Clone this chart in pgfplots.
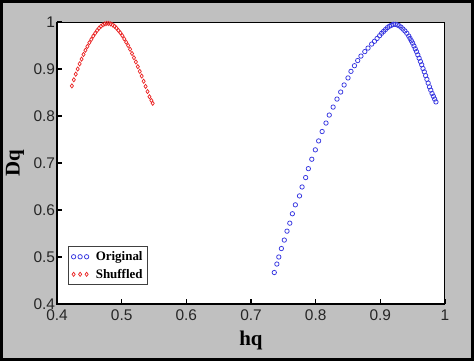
\documentclass[border=0pt]{standalone}
\usepackage{fontspec}
\setmainfont{Liberation Sans}
\newfontfamily\tnr{Liberation Serif}
\usepackage{pgfplots}
\pgfplotsset{compat=1.18}
\definecolor{bg}{RGB}{192,192,192}
\definecolor{mblue}{RGB}{55,55,225}
\definecolor{mred}{RGB}{235,35,35}
\begin{document}
\begin{tikzpicture}
\fill[black] (-57bp,-57bp) rectangle (417bp,304bp);
\fill[bg] (-54bp,-54bp) rectangle (414bp,301bp);
\begin{axis}[
  scale only axis, width=388bp, height=282bp,
  xmin=0.4, xmax=1, ymin=0.4, ymax=1,
  axis background/.style={fill=white},
  axis line style={line width=1bp, black},
  xtick={0.4,0.5,0.6,0.7,0.8,0.9,1},
  xticklabels={0.4,0.5,0.6,0.7,0.8,0.9,1},
  ytick={0.4,0.5,0.6,0.7,0.8,0.9,1},
  yticklabels={0.4,0.5,0.6,0.7,0.8,0.9,1},
  tick align=inside, tick pos=left,
  major tick length=5bp,
  every tick/.style={black, line width=1.5bp},
  tick label style={font=\fontsize{15.5}{15.5}\selectfont, text=black!85},
  xticklabel style={yshift=-2bp},
  yticklabel style={xshift=1.5bp},
  xlabel={hq}, ylabel={Dq},
  label style={font=\tnr\bfseries\fontsize{21}{21}\selectfont},
  xlabel style={at={(axis description cs:0.5,-0.1277)}, anchor=center},
  ylabel style={at={(axis description cs:-0.108,0.5)}, anchor=center},
  clip=false,
  legend cell align=left,
  legend style={at={(rel axis cs:0.0284,0.0674)}, anchor=south west,
    draw=black!75, line width=0.8bp, fill=white,
    font=\tnr\bfseries\fontsize{13}{13}\selectfont,
    row sep=3bp, column sep=5bp, inner xsep=3bp, inner ysep=3bp},
  legend image code/.code={\draw[mark repeat=1,mark phase=1] plot coordinates {(0bp,0bp)(6.5bp,0bp)(13bp,0bp)};},
]
\addplot[only marks, mark=o, mark size=2.2bp, color=mblue, mark options={line width=0.75bp}] coordinates {
(0.736,0.467)(0.740,0.485)(0.743,0.500)(0.747,0.518)(0.7515,0.536)(0.7557,0.555)
(0.760,0.572)(0.764,0.592)(0.7686,0.611)(0.775,0.630)(0.779,0.649)(0.7845,0.669)
(0.7887,0.688)(0.794,0.708)(0.7995,0.728)(0.8046,0.747)(0.810,0.767)(0.816,0.785)
(0.821,0.802)(0.827,0.819)(0.833,0.836)(0.8387,0.851)(0.844,0.866)(0.850,0.881)
(0.8546,0.895)(0.860,0.907)(0.865,0.918)(0.870,0.9275)(0.876,0.937)(0.881,0.9445)
(0.8866,0.953)(0.891,0.959)(0.895,0.965)(0.899,0.971)(0.902,0.976)(0.905,0.980)
(0.908,0.984)(0.911,0.988)(0.914,0.991)(0.917,0.993)(0.920,0.995)(0.923,0.995)
(0.926,0.994)(0.929,0.992)(0.932,0.989)(0.935,0.985)(0.938,0.981)(0.941,0.976)
(0.944,0.970)(0.946,0.965)(0.948,0.960)(0.950,0.955)(0.952,0.949)(0.954,0.943)
(0.956,0.937)(0.958,0.930)(0.960,0.923)(0.962,0.916)(0.964,0.909)(0.966,0.901)
(0.968,0.894)(0.970,0.886)(0.972,0.878)(0.974,0.870)(0.976,0.862)(0.978,0.855)
(0.980,0.848)(0.982,0.842)(0.984,0.836)(0.986,0.830)
};
\addlegendentry{Original}
\addplot[only marks, mark=diamond, mark size=2.1bp, color=mred, mark options={line width=0.7bp}] coordinates {
(0.423,0.864)(0.426,0.877)(0.429,0.889)(0.432,0.900)(0.435,0.911)(0.438,0.921)
(0.441,0.931)(0.444,0.940)(0.447,0.948)(0.450,0.956)(0.453,0.963)(0.456,0.970)
(0.459,0.976)(0.462,0.982)(0.465,0.987)(0.468,0.991)(0.471,0.994)(0.474,0.996)
(0.477,0.997)(0.480,0.997)(0.483,0.996)(0.486,0.994)(0.489,0.991)(0.492,0.987)
(0.495,0.982)(0.498,0.977)(0.501,0.971)(0.504,0.964)(0.507,0.957)(0.510,0.950)
(0.513,0.942)(0.516,0.933)(0.519,0.924)(0.522,0.915)(0.525,0.905)(0.528,0.895)
(0.531,0.885)(0.534,0.874)(0.537,0.863)(0.540,0.852)(0.543,0.841)(0.546,0.833)
(0.548,0.827)
};
\addlegendentry{Shuffled}
\draw[line width=2.2bp, black] (rel axis cs:0,1) -- (rel axis cs:0,0) -- (rel axis cs:1,0);
\end{axis}
\end{tikzpicture}
\end{document}
